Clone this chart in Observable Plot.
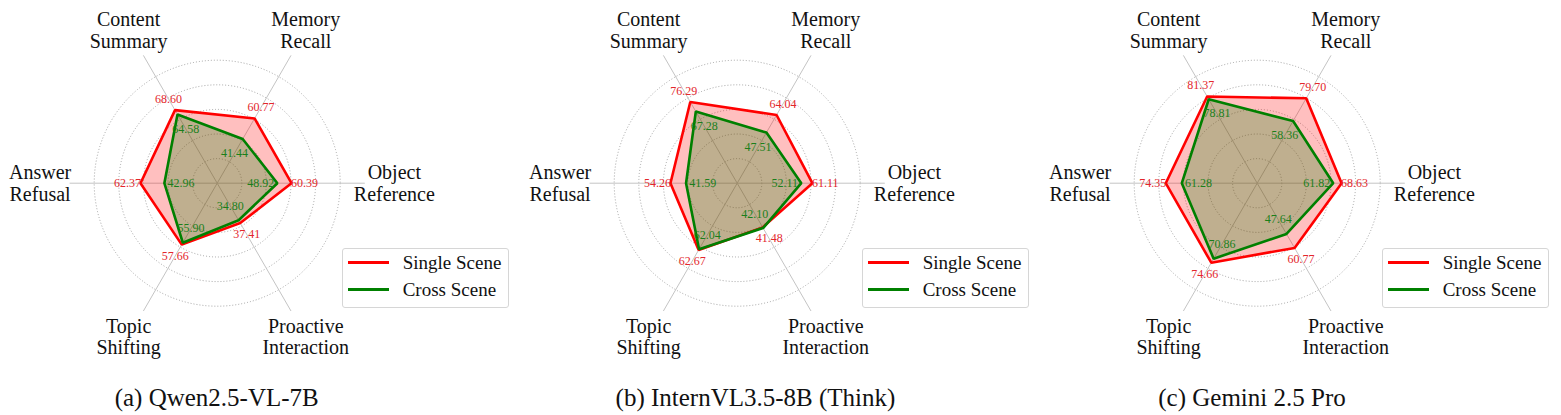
<!DOCTYPE html>
<html>
<head>
<meta charset="utf-8">
<script src="https://cdn.jsdelivr.net/npm/d3@7"></script>
<script src="https://cdn.jsdelivr.net/npm/@observablehq/plot@0.6"></script>
<style>
  html, body { margin: 0; padding: 0; background: #fff; }
  #root { position: relative; width: 1561px; height: 415px; overflow: hidden;
    font-family: "Liberation Serif", "Times New Roman", serif; color: #111; }
  .panel { position: absolute; top: 0; width: 520px; height: 415px; }
  .panel svg { position: absolute; left: 0; top: 0; }
  .legend { position: absolute; box-sizing: border-box; border: 1px solid #d6d6d6; border-radius: 3px;
    background: #fff; font-size: 19px; }
  .legend .row { position: absolute; left: 0; height: 0; }
  .legend .sw { position: absolute; height: 2.5px; }
  .legend .lab { position: absolute; white-space: nowrap; line-height: 1; }
  .caption { position: absolute; white-space: nowrap; font-size: 25px; line-height: 1; transform: translateX(-50%); }
</style>
</head>
<body>
<div id="root"></div>
<script>
// ---- data ----
const categories = ["Object\nReference", "Memory\nRecall", "Content\nSummary", "Answer\nRefusal", "Topic\nShifting", "Proactive\nInteraction"];
const models = ["(a) Qwen2.5-VL-7B", "(b) InternVL3.5-8B (Think)", "(c) Gemini 2.5 Pro"];
const series = ["Single Scene", "Cross Scene"];
const singleScene = [
  [60.39, 60.77, 68.60, 62.37, 57.66, 37.41],
  [61.11, 64.04, 76.29, 54.26, 62.67, 41.48],
  [68.63, 79.70, 81.37, 74.35, 74.66, 60.77]
];
const crossScene = [
  [48.92, 41.44, 64.58, 42.96, 55.90, 34.80],
  [52.11, 47.51, 67.28, 41.59, 62.04, 42.10],
  [61.82, 58.36, 78.81, 61.28, 70.86, 47.64]
];
const rings = [20, 40, 60, 80, 100];
const radialMax = 120;

// ---- layout ----
const k = 1.23;          // px per unit
const cx = 216.7, cy = 182.7;
const W = 520, H = 365;
const captionCenters = [216.7, 235.5, 212];
const colors = {single: "#ff0000", cross: "#008000"};
const fontFamily = '"Liberation Serif", "Times New Roman", serif';

const ang = i => i * Math.PI / 3;
const X = (i, r) => r * Math.cos(ang(i));
const Y = (i, r) => r * Math.sin(ang(i));

const root = document.getElementById("root");

models.forEach((model, m) => {
  const rows = categories.map((cat, i) => ({cat, i, s: singleScene[m][i], c: crossScene[m][i]}));
  const chart = Plot.plot({
    width: W, height: H,
    marginLeft: 0, marginRight: 0, marginTop: 0, marginBottom: 0,
    x: {domain: [-cx / k, (W - cx) / k], range: [0, W], axis: null},
    y: {domain: [-(H - cy) / k, cy / k], range: [H, 0], axis: null},
    r: {type: "identity"},
    style: {fontFamily, background: "transparent", overflow: "visible"},
    marks: [
      Plot.dot(rings, {x: () => 0, y: () => 0, r: d => d * k, fill: "none", stroke: "#9a9a9a",
        strokeWidth: 0.9, strokeDasharray: "1,2"}),
      Plot.link(rows, {x1: () => 0, y1: () => 0, x2: d => X(d.i, radialMax), y2: d => Y(d.i, radialMax),
        stroke: "#c4c4c4", strokeWidth: 1}),
      Plot.line(rows, {x: d => X(d.i, d.s), y: d => Y(d.i, d.s), curve: "linear-closed",
        fill: colors.single, fillOpacity: 0.25, stroke: colors.single, strokeWidth: 2.6, strokeLinejoin: "miter"}),
      Plot.line(rows, {x: d => X(d.i, d.c), y: d => Y(d.i, d.c), curve: "linear-closed",
        fill: colors.cross, fillOpacity: 0.25, stroke: colors.cross, strokeWidth: 2.6, strokeLinejoin: "miter"}),
      Plot.text(rows, {x: d => X(d.i, d.s + 10.5), y: d => Y(d.i, d.s + 10.5), text: d => d.s.toFixed(2),
        fill: "#e3262b", fontSize: 12}),
      Plot.text(rows, {x: d => X(d.i, d.c - 13.5), y: d => Y(d.i, d.c - 13.5), text: d => d.c.toFixed(2),
        fill: "#1b7f1b", fontSize: 12}),
      Plot.text(rows, {x: d => X(d.i, 144), y: d => Y(d.i, 144), text: d => d.cat,
        fill: "#111", fontSize: 20, lineHeight: 1.08})
    ]
  });
  const panel = document.createElement("div");
  panel.className = "panel";
  panel.style.left = (m * W) + "px";
  panel.appendChild(chart);

  // legend
  const lg = document.createElement("div");
  lg.className = "legend";
  lg.style.left = (cx + 125) + "px";
  lg.style.top = (cy + 65.6) + "px";
  lg.style.width = "167.6px";
  lg.style.height = "60px";
  [[series[0], colors.single, 80], [series[1], colors.cross, 107]].forEach(([name, col, dy]) => {
    const sw = document.createElement("div");
    sw.className = "sw";
    sw.style.background = col;
    sw.style.left = "5px";
    sw.style.width = "41px";
    sw.style.top = (dy - 65.6 - 1 - 1.25) + "px";
    lg.appendChild(sw);
    const lab = document.createElement("div");
    lab.className = "lab";
    lab.textContent = name;
    lab.style.left = "60px";
    lab.style.top = (dy - 65.6 - 1 - 9.5) + "px";
    lg.appendChild(lab);
  });
  panel.appendChild(lg);

  const cap = document.createElement("div");
  cap.className = "caption";
  cap.textContent = model;
  cap.style.left = captionCenters[m] + "px";
  cap.style.top = "385px";
  panel.appendChild(cap);

  root.appendChild(panel);
});
</script>
</body>
</html>
